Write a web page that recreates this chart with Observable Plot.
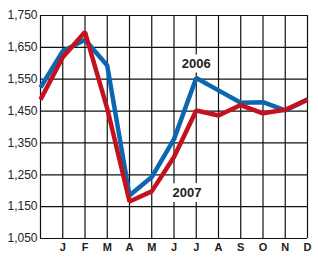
<!DOCTYPE html>
<html><head><meta charset="utf-8">
<script src="https://cdn.jsdelivr.net/npm/d3@7"></script>
<script src="https://cdn.jsdelivr.net/npm/@observablehq/plot@0.6"></script>
<style>
body{margin:0;background:#fff;}
#chart{width:318px;height:264px;}
svg{font-family:"Liberation Sans Narrow","Arial Narrow","Liberation Sans",Arial,sans-serif;}
</style>
</head><body><div id="chart"></div>
<script>
const periods = ["", "J", "F", "M", "A", "M", "J", "J", "A", "S", "O", "N", "D"];
const positions = [0, 1, 2, 3, 4, 5, 6, 7, 8, 9, 10, 11, 12];
const values2006 = [1524, 1638, 1674, 1593, 1185, 1243, 1362, 1554, 1515, 1476, 1478, 1452, 1486];
const values2007 = [1486, 1619, 1698, 1458, 1166, 1198, 1306, 1452, 1436, 1469, 1443, 1454, 1486];
const yTicks = [1050, 1150, 1250, 1350, 1450, 1550, 1650, 1750];
const seriesNames = ["2006", "2007"];
const seriesColors = ["#0b67b0", "#c3121f"];

const rows = [];
positions.forEach((p, i) => {
  rows.push({x: p, y: values2006[i], s: seriesNames[0]});
  rows.push({x: p, y: values2007[i], s: seriesNames[1]});
});
const label2006 = [{x: positions[7], y: values2006[7], t: seriesNames[0]}];
const label2007 = [{x: positions[6], y: values2007[6], t: seriesNames[1]}];
const textStyle = {x: "x", y: "y", text: "t", fontSize: 13, fontWeight: "bold", fill: "#222", stroke: "white", strokeWidth: 10, fontFamily: "Liberation Sans, Arial, sans-serif"};

const chart = Plot.plot({
  width: 318, height: 264,
  marginLeft: 40, marginTop: 15, marginRight: 11, marginBottom: 26,
  x: {type: "linear", domain: [0, 12]},
  y: {domain: [1050, 1750]},
  color: {domain: seriesNames, range: seriesColors},
  marks: [
    Plot.gridX(positions, {stroke: "#111", strokeOpacity: 1, strokeWidth: 1.2}),
    Plot.gridY(yTicks, {stroke: "#111", strokeOpacity: 1, strokeWidth: 1.2}),
    Plot.axisX(positions.slice(1), {tickSize: 0, tickPadding: 5, tickFormat: i => periods[i], fontSize: 11, fontWeight: "bold", fill: "#222", label: null}),
    Plot.axisY(yTicks, {tickSize: 0, tickPadding: 3, tickFormat: d3.format(","), fontSize: 12, fill: "#222", label: null}),
    Plot.text(label2006, {...textStyle, dx: 0, dy: -14}),
    Plot.text(label2007, {...textStyle, dx: 13, dy: 36}),
    Plot.line(rows, {x: "x", y: "y", z: "s", stroke: "s", strokeWidth: 4.5, strokeLinejoin: "miter", strokeLinecap: "butt"})
  ]
});
document.getElementById("chart").appendChild(chart);
</script>
</body></html>
